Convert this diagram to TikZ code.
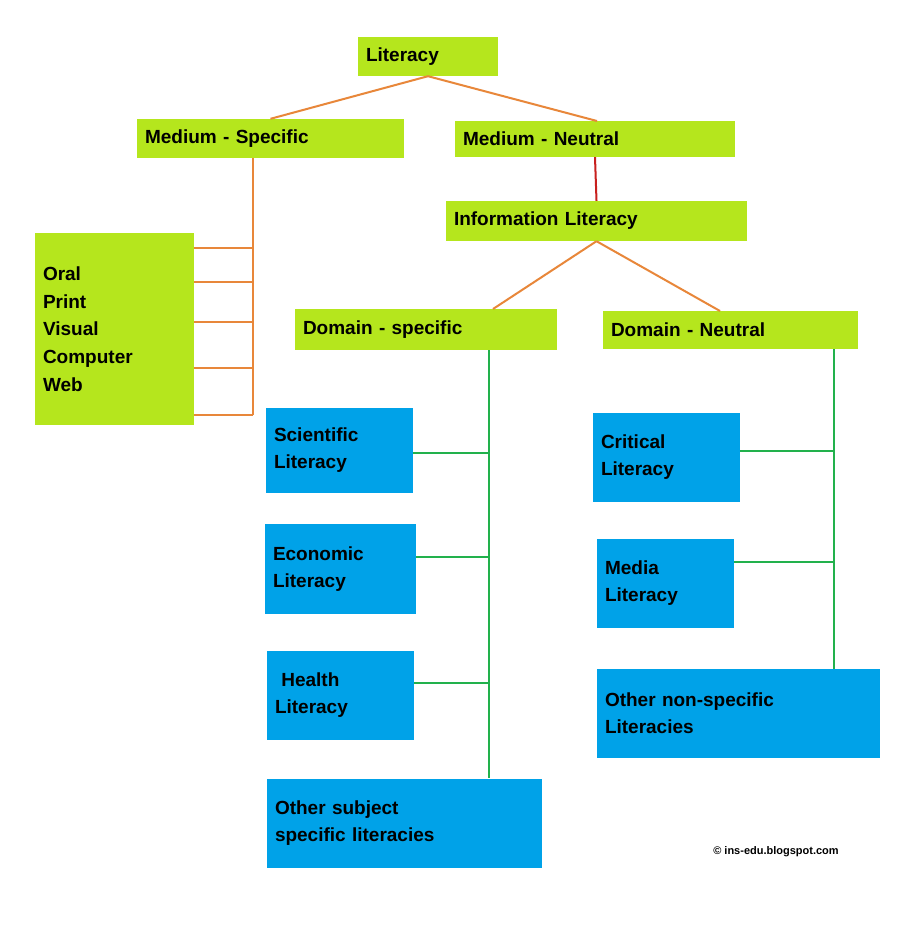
\documentclass[tikz,border=0pt]{standalone}
\usepackage{fontspec}
\setmainfont{Liberation Sans}
\definecolor{lg}{HTML}{B5E61D}
\definecolor{bl}{HTML}{00A2E8}
\definecolor{og}{HTML}{E8873A}
\definecolor{gn}{HTML}{22B14C}
\definecolor{rd}{HTML}{C8201E}
\begin{document}
\begin{tikzpicture}[x=1pt,y=-1pt,
 bx/.style={inner sep=0pt,font=\fontsize{19}{27}\selectfont\bfseries,align=left},
 gbox/.style={bx,fill=lg},
 bbox/.style={bx,fill=bl},
 ol/.style={og,line width=2pt},
 gl/.style={gn,line width=2pt}]
\useasboundingbox (0,0) rectangle (914,926);
\fill[white] (0,0) rectangle (914,926);
\newcommand{\bbx}[7]{% name,style,x1,y1,x2,y2,text
 \node[#2,minimum width={(#5-#3)*1pt},minimum height={(#6-#4)*1pt},text width={(#5-#3-16)*1pt}] (#1) at ({(#3+#5)/2},{(#4+#6)/2}) {#7};}
\bbx{lit}{gbox}{358}{37}{498}{76}{\centering Literacy}
\bbx{ms}{gbox}{137}{119}{404}{158}{\centering Medium - Specific}
\bbx{mn}{gbox}{455}{121}{735}{157}{\centering Medium - Neutral}
\bbx{il}{gbox}{446}{201}{747}{241}{\centering Information Literacy}
\bbx{ds}{gbox}{295}{309}{557}{350}{\centering Domain - specific}
\bbx{dn}{gbox}{603}{311}{858}{349}{\centering Domain - Neutral}
\node[gbox,minimum width=159pt,minimum height=192pt,text width=143pt,
 font=\fontsize{19}{27.7}\selectfont\bfseries] (media) at (114.5,329) {Oral\\Print\\Visual\\Computer\\Web};
\bbx{sci}{bbox}{266}{408}{413}{493}{Scientific\\Literacy}
\bbx{eco}{bbox}{265}{524}{416}{614}{Economic\\Literacy}
\bbx{hea}{bbox}{267}{651}{414}{740}{\ Health\\Literacy}
\bbx{oss}{bbox}{267}{779}{542}{868}{Other subject\\specific literacies}
\bbx{cri}{bbox}{593}{413}{740}{502}{Critical\\Literacy}
\bbx{med}{bbox}{597}{539}{734}{628}{Media\\Literacy}
\bbx{ons}{bbox}{597}{669}{880}{758}{Other non-specific\\Literacies}
\node[font=\fontsize{11}{13}\selectfont\bfseries] (cp) at (776,852) {© ins-edu.blogspot.com};
% connectors
\draw[ol] (lit.south) -- (ms.north);
\draw[ol] (lit.south) -- (597,121) coordinate (mnt);
\draw[rd,line width=2pt] (mn.south) -- (il.north);
\draw[ol] (il.south) -- (493,309) coordinate (dst);
\draw[ol] (il.south) -- (720,311) coordinate (dnt);
\coordinate (v1) at (253,158);
\draw[ol] (v1) -- (253,415);
\foreach \y in {248,282,322,368,415} \draw[ol] (253,\y) -- (194,\y);
\draw[gl] (489,350) -- (489,778);
\foreach \y/\n in {453/sci,557/eco,683/hea} \draw[gl] (489,\y) -- (\n.east |- 0,\y);
\draw[gl] (834,349) -- (834,669);
\foreach \y/\n in {451/cri,562/med} \draw[gl] (834,\y) -- (\n.east |- 0,\y);
\end{tikzpicture}
\end{document}
